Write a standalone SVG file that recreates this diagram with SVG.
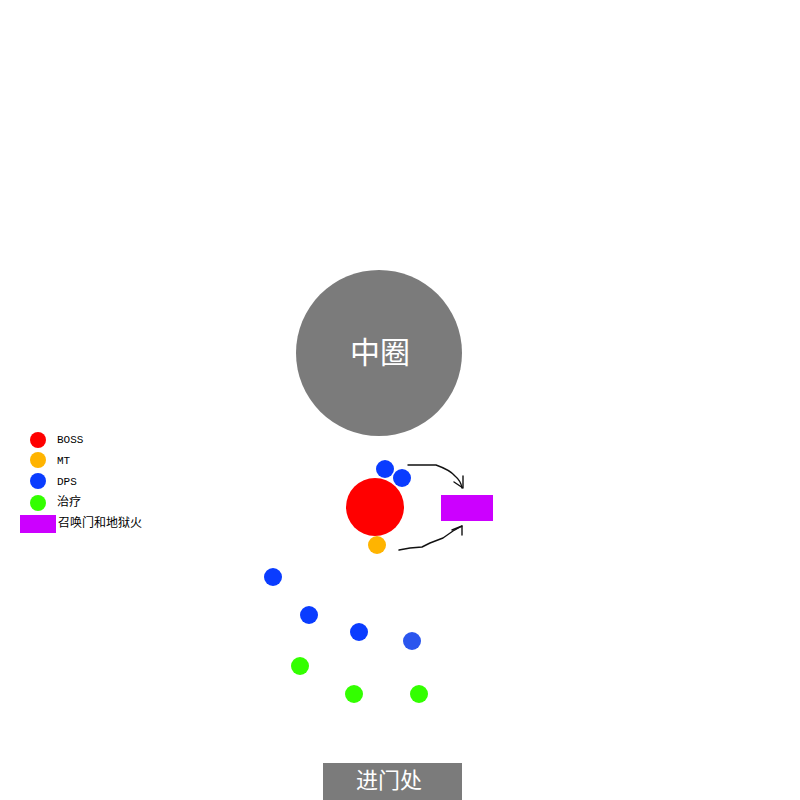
<svg xmlns="http://www.w3.org/2000/svg" width="800" height="800" viewBox="0 0 800 800">
<style>
.lbl{font-family:"Liberation Mono","Noto Sans CJK SC",monospace;font-size:11px;fill:#000}
.cjk{font-size:12px}
.big{font-family:"Noto Sans CJK SC",sans-serif;fill:#fff;text-anchor:middle;dominant-baseline:central}
.boss{fill:#ff0000}.mt{fill:#ffb400}.dps{fill:#0a3cff}.heal{fill:#33ff00}.gate{fill:#cc00ff}
.arr{fill:none;stroke:#111;stroke-width:1.4;stroke-linecap:round;stroke-linejoin:round}
</style>
<rect width="800" height="800" fill="#fff"/>
<g id="center-ring"><circle cx="379" cy="353" r="83" fill="#7b7b7b"/><text class="big" x="380" y="350" font-size="30">中圈</text></g>
<g id="entrance"><rect x="323" y="763" width="139" height="37" fill="#7b7b7b"/><text class="big" x="389" y="778" font-size="22">进门处</text></g>
<g id="legend">
<circle class="boss" cx="38" cy="440" r="8"/><text class="lbl" x="57" y="443">BOSS</text>
<circle class="mt" cx="38" cy="460" r="8"/><text class="lbl" x="57" y="464">MT</text>
<circle class="dps" cx="38" cy="481" r="8"/><text class="lbl" x="57" y="485">DPS</text>
<circle class="heal" cx="38" cy="503" r="8"/><text class="lbl cjk" x="57" y="506">治疗</text>
<rect class="gate" x="20" y="515" width="36" height="18"/><text class="lbl cjk" x="58" y="527">召唤门和地狱火</text>
</g>
<g id="boss"><circle class="boss" cx="375" cy="507" r="29"/></g>
<g id="mt"><circle class="mt" cx="377" cy="545" r="9"/></g>
<g id="gate"><rect class="gate" x="441" y="495" width="52" height="26"/></g>
<g id="dps1"><circle class="dps" cx="385" cy="469" r="9"/></g>
<g id="dps2"><circle class="dps" cx="402" cy="478" r="9"/></g>
<g id="dps3"><circle class="dps" cx="273" cy="577" r="9"/></g>
<g id="dps4"><circle class="dps" cx="309" cy="615" r="9" fill="#1e4af0"/></g>
<g id="dps5"><circle class="dps" cx="359" cy="632" r="9"/></g>
<g id="dps6"><circle cx="412" cy="641" r="9" fill="#2a55ee"/></g>
<g id="heal1"><circle class="heal" cx="300" cy="666" r="9"/></g>
<g id="heal2"><circle class="heal" cx="354" cy="694" r="9"/></g>
<g id="heal3"><circle class="heal" cx="419" cy="694" r="9"/></g>
<g id="connectors">
<path class="arr" d="M408 465 L436 465 Q450 470 455 476 Q461 481 462 488"/>
<path class="arr" d="M463 476 L463 488 L454 482"/>
<path class="arr" d="M399 550 L410 548 L422 547 L430 543 L443 538 L453 531 L462 526"/>
<path class="arr" d="M452 530 L462 526 L462 535"/>
</g>
</svg>
